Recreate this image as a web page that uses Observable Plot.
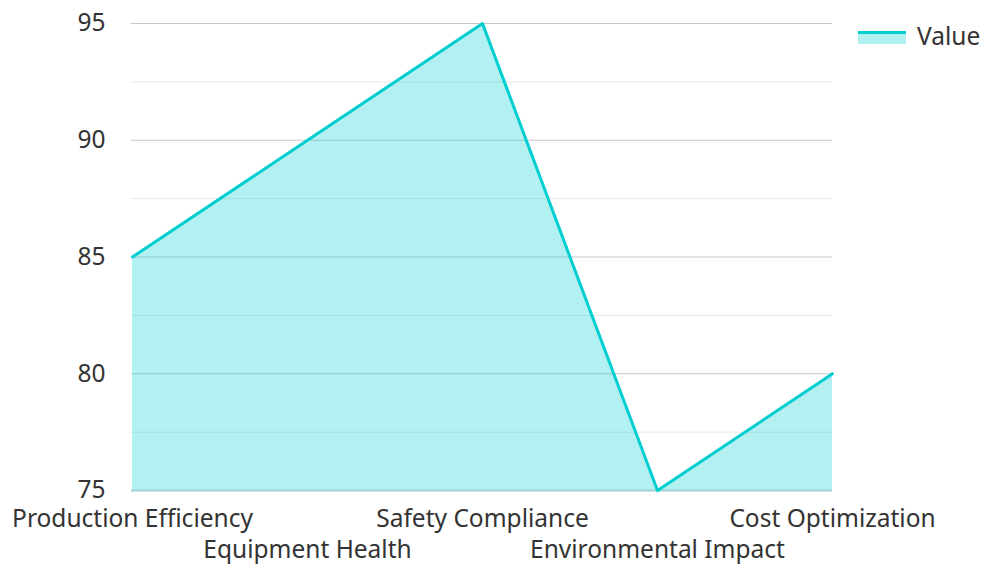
<!DOCTYPE html>
<html>
<head>
<meta charset="utf-8">
<script src="https://cdn.jsdelivr.net/npm/d3@7"></script>
<script src="https://cdn.jsdelivr.net/npm/@observablehq/plot@0.6"></script>
<style>
  html, body { margin: 0; padding: 0; background: #fff; }
  #wrap { position: relative; width: 981px; height: 564px; font-family: "Noto Sans", sans-serif; }
  #legend { position: absolute; left: 858px; top: 19px; display: flex; align-items: center; font-size: 24.5px; color: #333; }
  #legend .sw { width: 48px; height: 13px; background: rgba(0,206,209,0.3); border-top: 3px solid #00ced1; margin-right: 11px; margin-top: 4px; box-sizing: border-box; }
</style>
</head>
<body>
<div id="wrap">
  <div id="chart"></div>
  <div id="legend"><div class="sw"></div><span>Value</span></div>
</div>
<script>
const categories = ["Production Efficiency", "Equipment Health", "Safety Compliance", "Environmental Impact", "Cost Optimization"];
const values = [85, 90, 95, 75, 80];
const majorTicks = [75, 80, 85, 90, 95];
const minorTicks = [77.5, 82.5, 87.5, 92.5];
const seriesName = "Value";

const data = categories.map((c, i) => ({category: c, value: values[i]}));
const evenCats = categories.filter((d, i) => i % 2 === 0);
const oddCats = categories.filter((d, i) => i % 2 === 1);

const chart = Plot.plot({
  width: 981,
  height: 564,
  marginLeft: 131,
  marginRight: 149,
  marginTop: 23,
  marginBottom: 74,
  style: {fontFamily: "Noto Sans, sans-serif", fontSize: "24.5px", color: "#333", background: "#fff", overflow: "visible"},
  x: {type: "point", domain: categories, padding: 0},
  y: {domain: [75, 95]},
  marks: [
    Plot.gridY(minorTicks, {stroke: "#e8e8e8", strokeOpacity: 1, strokeWidth: 1}),
    Plot.gridY(majorTicks, {stroke: "#c8c8c8", strokeOpacity: 1, strokeWidth: 1}),
    Plot.areaY(data, {x: "category", y1: 75, y2: "value", fill: "#00ced1", fillOpacity: 0.3}),
    Plot.ruleY([75], {stroke: "#9dd3d3", strokeWidth: 2}),
    Plot.lineY(data, {x: "category", y: "value", stroke: "#00ced1", strokeWidth: 3}),
    Plot.axisY(majorTicks, {tickSize: 0, tickPadding: 26, label: null, fontSize: 24.5, fill: "#333"}),
    Plot.axisX(evenCats, {tickSize: 0, tickPadding: 19, label: null, fontSize: 24.5, fill: "#333"}),
    Plot.axisX(oddCats, {tickSize: 0, tickPadding: 50, label: null, fontSize: 24.5, fill: "#333"})
  ]
});
document.getElementById("chart").appendChild(chart);
</script>
</body>
</html>
